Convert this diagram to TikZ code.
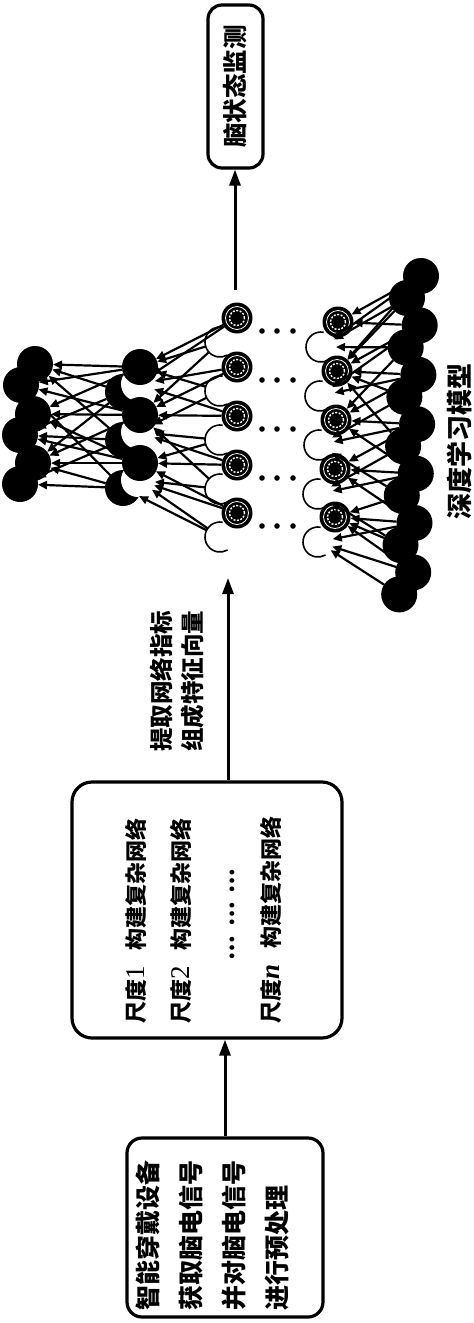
\documentclass[tikz,border=0pt]{standalone}
\usepackage{fontspec}
\setmainfont{Liberation Serif}
\newfontfamily\cjk{Noto Sans CJK SC}
\usetikzlibrary{arrows.meta,calc}
\begin{document}
\begin{tikzpicture}[x=1pt,y=-1pt,
  box/.style={draw, line width=3.2pt, inner sep=0pt},
  bigarrow/.style={line width=3pt, -{Triangle[length=16pt,width=11pt]}},
  netarrow/.style={line width=2.2pt, -{Triangle[length=9pt,width=8pt]}},
  blk/.style={circle, fill=black, inner sep=0pt, outer sep=0pt, minimum size=36pt},
  hat/.style={circle, fill=black, inner sep=0pt, outer sep=0pt, minimum size=31pt,
    path picture={
      \draw[white, line width=0.8pt] (path picture bounding box.center) circle[radius=11.5pt];
      \draw[white, line width=1.4pt, dash pattern=on 2pt off 1.5pt] (path picture bounding box.center) circle[radius=7.5pt];}},
  cres/.style={circle, fill=white, inner sep=0pt, outer sep=0pt, minimum size=30pt},
  cjktext/.style={rotate=90, inner sep=0pt}
]
\useasboundingbox (0,0) rectangle (474,1323);

% ---------- boxes ----------
\node[box, rotate=90, minimum width=163pt, minimum height=55pt, rounded corners=14pt,
      font=\cjk\bfseries\fontsize{24.5}{30}\selectfont] (top) at (235.5,86.5) {脑状态监测};

\node[box, rotate=90, minimum width=256pt, minimum height=270pt, rounded corners=20pt] (mid) at (207,910) {};
\node[cjktext, align=left, font=\cjk\bfseries\fontsize{22}{45}\selectfont] (midtext) at (203.5,920)
  {尺度{\rmfamily\mdseries\fontsize{27}{45}\selectfont 1}\hspace*{0.7em}构建复杂网络\\
   尺度{\rmfamily\mdseries\fontsize{27}{45}\selectfont 2}\hspace*{0.7em}构建复杂网络\\
   \hspace*{2.86em}…\hspace*{0.4em}…\hspace*{0.4em}…\\
   尺度{\rmfamily\itshape\bfseries\fontsize{27}{45}\selectfont n}\hspace*{0.7em}构建复杂网络};

\node[box, rotate=90, minimum width=179pt, minimum height=196pt, rounded corners=15pt] (b1) at (225,1227.5) {};
\node[cjktext, align=left, font=\cjk\bfseries\fontsize{25}{43}\selectfont] (b1text) at (212.5,1235)
  {智能穿戴设备\\获取脑电信号\\并对脑电信号\\进行预处理};

\node[cjktext, align=center, font=\cjk\bfseries\fontsize{23.5}{31}\selectfont] (lab) at (177.5,681)
  {提取网络指标\\组成特征向量};

\node[cjktext, font=\cjk\bfseries\fontsize{26}{30}\selectfont] (mlab) at (459,441) {深度学习模型};

% ---------- main arrows ----------
\coordinate (netin) at (228,578);
\coordinate (netout) at (235,290);
\draw[bigarrow] (b1.east) -- (b1.east |- mid.west);
\draw[bigarrow] (netin |- mid.east) -- (netin);
\draw[bigarrow] (netout) -- (netout |- top.west);

% ---------- network: column 1 ----------
\foreach \n/\x/\y in {A1b/21/385, A2b/20/435, A3b/20/484, A1/35/364, A2/33/414, A3/33/463}
  \node[blk] (\n) at (\x,\y) {};

% ---------- column 2 ----------
\foreach \i/\y in {1/367,2/415,3/463} {
  \node[blk] (Bb\i) at (123,{\y+25}) {};
  \node[circle, fill=white, inner sep=0pt, outer sep=0pt, minimum size=34pt] (Bw\i) at (138,{\y+17}) {};
  \node[blk] (B\i) at (140,\y) {};
}

% ---------- column 3 ----------
\foreach \i/\y in {0/318,1/367,2/416,3/465,4/513} {
  \node[cres] (Cc\i) at (220,{\y+24}) {};
  \draw[line width=1.6pt] (Cc\i.80) arc[start angle=80,end angle=300,radius=15pt];
}
\foreach \i/\y in {0/318,1/367,2/416,3/465,4/513}
  \node[hat] (C\i) at (237,\y) {};

% ---------- column 4 ----------
\foreach \i/\x/\y in {0/338/322,1/337/371,2/336/420,3/335/469,4/335/517} {
  \node[cres] (Dc\i) at ({\x-17},{\y+25}) {};
  \draw[line width=1.6pt] (Dc\i.80) arc[start angle=80,end angle=300,radius=15pt];
}
\foreach \i/\x/\y in {0/338/322,1/337/371,2/336/420,3/335/469,4/335/517}
  \node[hat] (D\i) at (\x,\y) {};

% dots between columns 3 and 4
\foreach \y in {331,380,429,478,526}
  \foreach \x in {262,277,293}
    \fill (\x,\y) circle[radius=2.8pt];

% ---------- column 5 ----------
\foreach \k in {0,...,6} {
  \node[blk] (Eb\k) at ({407-1.3*\k},{298+49.4*\k}) {};
  \node[blk] (E\k) at ({421-1.3*\k},{276+49.4*\k}) {};
}

% ---------- connectors ----------
\foreach \src/\dst in {E0/D0, E0/Dc0, E0/D1, Eb0/Dc0, Eb0/D1, E1/D0, E1/Dc1, E1/D1, Eb1/Dc0, Eb1/D2,
  E2/D1, E2/Dc1, E2/D2, Eb2/Dc2, Eb2/D1, E3/D2, E3/Dc2, E3/D3, Eb3/D1, Eb3/Dc3,
  E4/D3, E4/Dc3, E4/D2, Eb4/D4, Eb4/Dc2, E5/D3, E5/Dc4, E5/D4, Eb5/Dc3, Eb5/D4,
  E6/D4, E6/Dc4, Eb6/Dc4}
  \draw[netarrow] (\src) -- (\dst);

\foreach \src/\dst in {C0/B1, C0/Bw1, Cc0/B1, Cc0/B2, C1/Bw1, C1/B2, Cc1/B1, Cc1/Bw2,
  C2/B2, C2/Bw1, Cc2/Bw2, Cc2/B3, C3/B3, C3/Bw2, Cc3/Bw3, Cc3/B2, C4/Bw3, C4/B3, Cc4/Bb3, Cc4/Bw3}
  \draw[netarrow] (\src) -- (\dst);

\foreach \src/\dst in {B1/A1, B1/A2, B1/A1b, Bb1/A1, Bb1/A2b, Bb1/A3, B2/A1b, B2/A2, B2/A3,
  Bb2/A1, Bb2/A2b, Bb2/A3b, B3/A2, B3/A3, B3/A2b, Bb3/A3b, Bb3/A1b, Bb3/A3}
  \draw[netarrow] (\src) -- (\dst);
\end{tikzpicture}
\end{document}
